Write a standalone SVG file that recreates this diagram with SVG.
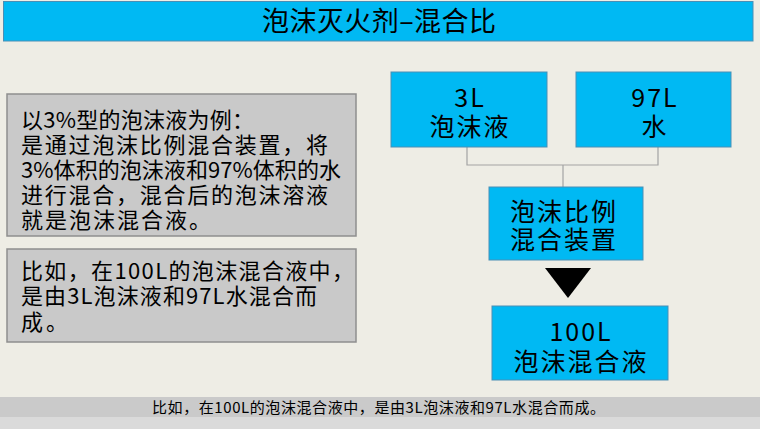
<svg xmlns="http://www.w3.org/2000/svg" width="760" height="429" viewBox="0 0 760 429">
<style>
.cy{fill:#00b9f3;stroke:#4a8fb5;stroke-width:1}
.gr{fill:#c9c9c9;stroke:#8e8e8e;stroke-width:1.5}
.t{font-family:"Noto Sans CJK SC","Noto Sans",sans-serif;fill:#000}
.lt{font-size:22px}
.nt{font-size:25px;letter-spacing:2px;text-anchor:middle}
.cn{fill:none;stroke:#a3a3a3;stroke-width:1.2}
</style>
<rect x="0" y="0" width="760" height="429" fill="#eeede5"/>
<g id="title">
<rect class="cy" x="3.5" y="1.5" width="749.5" height="39.5"/>
<text class="t" x="379" y="31" font-size="27" text-anchor="middle" textLength="234" lengthAdjust="spacing">泡沫灭火剂–混合比</text>
</g>
<g id="note1">
<rect class="gr" x="7" y="94" width="349" height="142"/>
<text class="t lt"><tspan x="21" y="128" textLength="233" lengthAdjust="spacing">以3%型的泡沫液为例：</tspan><tspan x="21" y="153" textLength="307" lengthAdjust="spacing">是通过泡沫比例混合装置，将</tspan><tspan x="21" y="178" textLength="320" lengthAdjust="spacing">3%体积的泡沫液和97%体积的水</tspan><tspan x="21" y="203" textLength="307" lengthAdjust="spacing">进行混合，混合后的泡沫溶液</tspan><tspan x="21" y="228" textLength="190" lengthAdjust="spacing">就是泡沫混合液。</tspan></text>
</g>
<g id="note2">
<rect class="gr" x="7" y="249" width="349" height="93"/>
<text class="t lt"><tspan x="21" y="279" textLength="333" lengthAdjust="spacing">比如，在100L的泡沫混合液中，</tspan><tspan x="21" y="304" textLength="296" lengthAdjust="spacing">是由3L泡沫液和97L水混合而</tspan><tspan x="21" y="330" textLength="47" lengthAdjust="spacing">成。</tspan></text>
</g>
<g id="connectors">
<polyline class="cn" points="467,147 467,165 658,165 658,147"/>
<line class="cn" x1="563" y1="165" x2="563" y2="187"/>
<polygon points="545,268 591,268 568,298" fill="#000"/>
</g>
<g id="node-3l">
<rect class="cy" x="391" y="72" width="156" height="75"/>
<text class="t nt"><tspan x="470" y="107">3L</tspan><tspan x="470" y="136">泡沫液</tspan></text>
</g>
<g id="node-97l">
<rect class="cy" x="576" y="72" width="155" height="75"/>
<text class="t nt"><tspan x="655" y="107">97L</tspan><tspan x="655" y="136">水</tspan></text>
</g>
<g id="node-mixer">
<rect class="cy" x="489" y="187" width="154" height="73"/>
<text class="t nt"><tspan x="564" y="221">泡沫比例</tspan><tspan x="564" y="249">混合装置</tspan></text>
</g>
<g id="node-100l">
<rect class="cy" x="492" y="306" width="176" height="74"/>
<text class="t nt"><tspan x="581" y="341">100L</tspan><tspan x="581" y="371">泡沫混合液</tspan></text>
</g>
<g id="caption">
<rect x="0" y="397" width="760" height="20" fill="#cacaca"/>
<rect x="0" y="417" width="760" height="12" fill="#dadada"/>
<text class="t" x="152" y="413" font-size="15" textLength="453" lengthAdjust="spacing">比如，在100L的泡沫混合液中，是由3L泡沫液和97L水混合而成。</text>
</g>
</svg>
